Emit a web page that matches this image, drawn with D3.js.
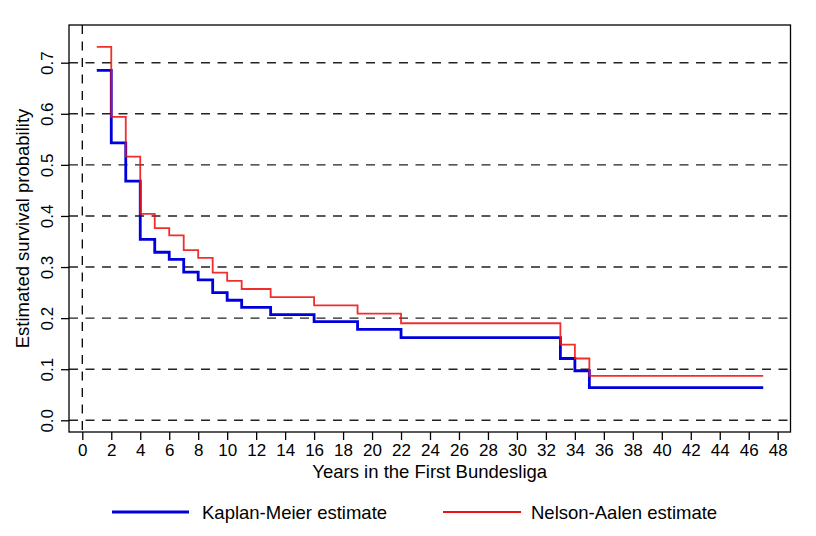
<!DOCTYPE html>
<html>
<head>
<meta charset="utf-8">
<script src="https://cdn.jsdelivr.net/npm/d3@7"></script>
<style>
  body { margin: 0; background: #fff; }
  text { font-family: "Liberation Sans", Arial, sans-serif; font-size: 18.5px; fill: #000; }
</style>
</head>
<body>
<script>
// step times (years) and the two survival estimates
var times = [1, 2, 3, 4, 5, 6, 7, 8, 9, 10, 11, 13, 16, 19, 22, 33, 34, 35];
var kaplanMeier = [0.685, 0.543, 0.468, 0.354, 0.329, 0.315, 0.290, 0.275, 0.250, 0.235, 0.221, 0.207, 0.193, 0.178, 0.162, 0.121, 0.097, 0.064];
var nelsonAalen = [0.731, 0.594, 0.516, 0.404, 0.376, 0.362, 0.333, 0.318, 0.289, 0.273, 0.257, 0.241, 0.225, 0.209, 0.190, 0.148, 0.121, 0.087];
var lastTime = 47;
var xTicks = d3.range(0, 50, 2);
var yTicks = [0, 0.1, 0.2, 0.3, 0.4, 0.5, 0.6, 0.7];

var width = 816, height = 536;
var box = {left: 69, top: 25, right: 790.5, bottom: 432};
var tickFont = "17px";

var svg = d3.select("body")
  .append("svg")
    .attr("width", width)
    .attr("height", height);

svg.append("rect")
    .attr("width", width)
    .attr("height", height)
    .attr("fill", "#fff");

var x = d3.scaleLinear()
    .domain([0, 48])
    .range([82.3, 777.7]);

var y = d3.scaleLinear()
    .domain([0, 0.7])
    .range([420.3, 62.7]);

// dashed reference lines
svg.append("g")
  .selectAll("line")
  .data(yTicks)
  .enter()
  .append("line")
    .attr("x1", box.left)
    .attr("x2", box.right)
    .attr("y1", function(d) { return y(d); })
    .attr("y2", function(d) { return y(d); })
    .attr("stroke", "#222")
    .attr("stroke-width", 1.4)
    .attr("stroke-dasharray", "9,7.5");

svg.append("line")
    .attr("x1", x(0))
    .attr("x2", x(0))
    .attr("y1", box.top)
    .attr("y2", box.bottom)
    .attr("stroke", "#000")
    .attr("stroke-width", 1.3)
    .attr("stroke-dasharray", "9,7.5");

// x axis
var xAxis = svg.append("g")
    .attr("transform", "translate(0," + box.bottom + ")")
    .call(d3.axisBottom(x).tickValues(xTicks).tickSize(8).tickPadding(4).tickFormat(d3.format("d")));
xAxis.select(".domain").remove();
xAxis.selectAll("line").attr("stroke-width", 1.3);
xAxis.selectAll("text").style("font-size", tickFont).style("font-family", "Liberation Sans, Arial, sans-serif");

// y axis with rotated labels
var yAxis = svg.append("g")
    .attr("transform", "translate(" + box.left + ",0)")
    .call(d3.axisLeft(y).tickValues(yTicks).tickSize(8).tickFormat(d3.format(".1f")));
yAxis.select(".domain").remove();
yAxis.selectAll("line").attr("stroke-width", 1.3);
yAxis.selectAll("text")
    .style("font-size", tickFont)
    .style("font-family", "Liberation Sans, Arial, sans-serif")
    .attr("x", null)
    .attr("dy", null)
    .attr("text-anchor", "middle")
    .attr("transform", "translate(-16,0) rotate(-90)");

// frame
svg.append("rect")
    .attr("x", box.left)
    .attr("y", box.top)
    .attr("width", box.right - box.left)
    .attr("height", box.bottom - box.top)
    .attr("fill", "none")
    .attr("stroke", "#000")
    .attr("stroke-width", 1.3);

// step curves
var stepLine = d3.line()
    .x(function(d) { return x(d[0]); })
    .y(function(d) { return y(d[1]); })
    .curve(d3.curveStepAfter);

function steps(values) {
  var pts = times.map(function(t, i) { return [t, values[i]]; });
  pts.push([lastTime, values[values.length - 1]]);
  return pts;
}

svg.append("path")
    .attr("d", stepLine(steps(kaplanMeier)))
    .attr("fill", "none")
    .attr("stroke", "#0000dd")
    .attr("stroke-width", 2.8);

svg.append("path")
    .attr("d", stepLine(steps(nelsonAalen)))
    .attr("fill", "none")
    .attr("stroke", "#ee1111")
    .attr("stroke-opacity", 0.88)
    .attr("stroke-width", 1.8);

// axis titles
svg.append("text")
    .text("Years in the First Bundesliga")
    .attr("text-anchor", "middle")
    .attr("x", (box.left + box.right) / 2)
    .attr("y", 478);

svg.append("text")
    .text("Estimated survival probability")
    .attr("text-anchor", "middle")
    .attr("transform", "translate(29," + ((box.top + box.bottom) / 2) + ") rotate(-90)");

// legend
var legend = svg.append("g");
legend.append("line")
    .attr("x1", 112).attr("x2", 189)
    .attr("y1", 512).attr("y2", 512)
    .attr("stroke", "#0000dd")
    .attr("stroke-width", 2.8);
legend.append("text")
    .text("Kaplan-Meier estimate")
    .attr("x", 202)
    .attr("y", 519);
legend.append("line")
    .attr("x1", 443).attr("x2", 521)
    .attr("y1", 512).attr("y2", 512)
    .attr("stroke", "#ee1111")
    .attr("stroke-width", 1.8);
legend.append("text")
    .text("Nelson-Aalen estimate")
    .attr("x", 531)
    .attr("y", 519);
</script>
</body>
</html>
